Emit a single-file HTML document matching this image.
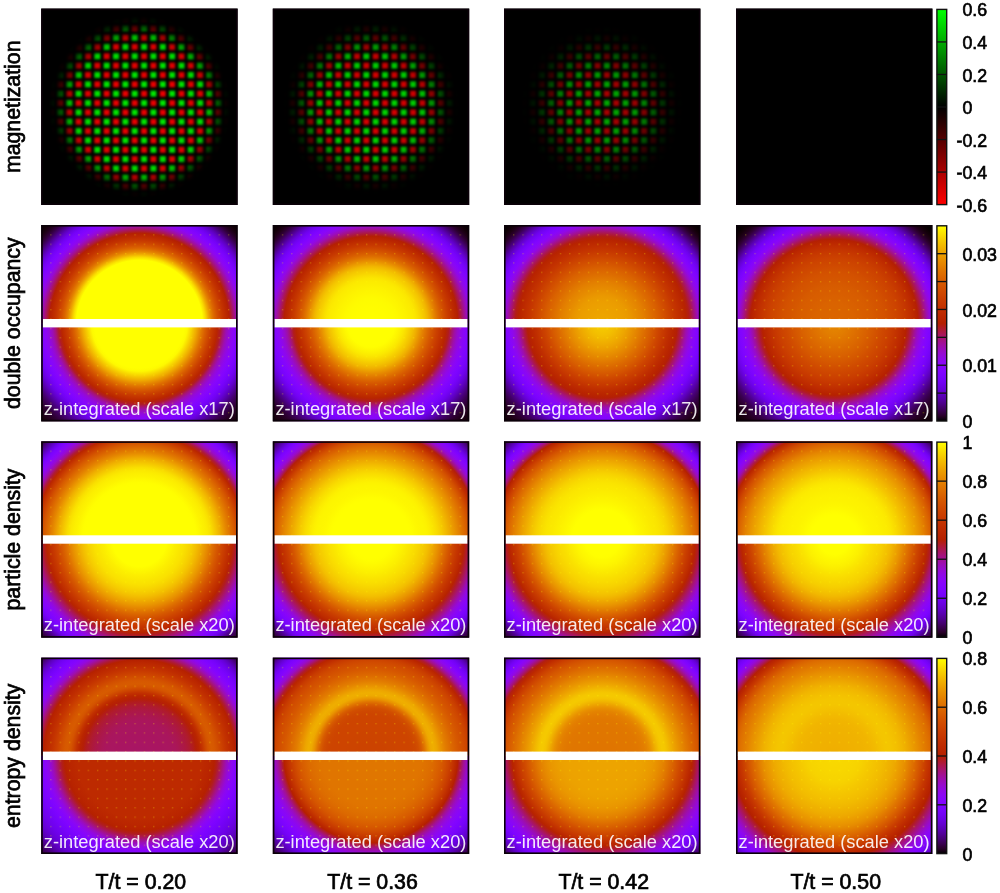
<!DOCTYPE html>
<html lang="en">
<head>
<meta charset="utf-8">
<title>Magnetization, double occupancy, particle density and entropy density</title>
<style>
html,body{margin:0;padding:0;background:#fff;}
body{width:1000px;height:893px;overflow:hidden;}
svg{display:block;font-family:"Liberation Sans", sans-serif;}
</style>
</head>
<body>
<svg width="1000" height="893" viewBox="0 0 1000 893">
<defs>
<filter id="bl" x="-5%" y="-5%" width="110%" height="110%" color-interpolation-filters="sRGB"><feGaussianBlur stdDeviation="1.15"/></filter>
<pattern id="chk0" patternUnits="userSpaceOnUse" x="27.171" y="-4.529" width="18.705" height="18.705"><rect x="1.676" y="1.676" width="6.00" height="6.00" fill="#ff0000"/><rect x="11.029" y="1.676" width="6.00" height="6.00" fill="#00ff00"/><rect x="1.676" y="11.029" width="6.00" height="6.00" fill="#00ff00"/><rect x="11.029" y="11.029" width="6.00" height="6.00" fill="#ff0000"/></pattern>
<radialGradient id="env0" gradientUnits="userSpaceOnUse" cx="139.4" cy="106.8" r="110"><stop offset="0.0000" stop-color="#fff" stop-opacity="0.920"/><stop offset="0.3436" stop-color="#fff" stop-opacity="0.902"/><stop offset="0.5727" stop-color="#fff" stop-opacity="0.856"/><stop offset="0.6045" stop-color="#fff" stop-opacity="0.823"/><stop offset="0.6364" stop-color="#fff" stop-opacity="0.730"/><stop offset="0.6682" stop-color="#fff" stop-opacity="0.592"/><stop offset="0.7000" stop-color="#fff" stop-opacity="0.428"/><stop offset="0.7318" stop-color="#fff" stop-opacity="0.264"/><stop offset="0.7636" stop-color="#fff" stop-opacity="0.125"/><stop offset="0.7955" stop-color="#fff" stop-opacity="0.033"/><stop offset="0.8273" stop-color="#fff" stop-opacity="0.000"/></radialGradient>
<mask id="mk0" maskUnits="userSpaceOnUse" x="41.2" y="8.6" width="196.4" height="196.4"><rect x="41.2" y="8.6" width="196.4" height="196.4" fill="url(#env0)"/></mask>
<pattern id="chk1" patternUnits="userSpaceOnUse" x="258.771" y="-4.529" width="18.705" height="18.705"><rect x="1.676" y="1.676" width="6.00" height="6.00" fill="#ff0000"/><rect x="11.029" y="1.676" width="6.00" height="6.00" fill="#00ff00"/><rect x="1.676" y="11.029" width="6.00" height="6.00" fill="#00ff00"/><rect x="11.029" y="11.029" width="6.00" height="6.00" fill="#ff0000"/></pattern>
<radialGradient id="env1" gradientUnits="userSpaceOnUse" cx="371.0" cy="106.8" r="110"><stop offset="0.0000" stop-color="#fff" stop-opacity="0.850"/><stop offset="0.2509" stop-color="#fff" stop-opacity="0.833"/><stop offset="0.4182" stop-color="#fff" stop-opacity="0.790"/><stop offset="0.4659" stop-color="#fff" stop-opacity="0.760"/><stop offset="0.5136" stop-color="#fff" stop-opacity="0.675"/><stop offset="0.5614" stop-color="#fff" stop-opacity="0.547"/><stop offset="0.6091" stop-color="#fff" stop-opacity="0.395"/><stop offset="0.6568" stop-color="#fff" stop-opacity="0.244"/><stop offset="0.7045" stop-color="#fff" stop-opacity="0.116"/><stop offset="0.7523" stop-color="#fff" stop-opacity="0.030"/><stop offset="0.8000" stop-color="#fff" stop-opacity="0.000"/></radialGradient>
<mask id="mk1" maskUnits="userSpaceOnUse" x="272.8" y="8.6" width="196.4" height="196.4"><rect x="272.8" y="8.6" width="196.4" height="196.4" fill="url(#env1)"/></mask>
<pattern id="chk2" patternUnits="userSpaceOnUse" x="489.971" y="-4.529" width="18.705" height="18.705"><rect x="1.676" y="1.676" width="6.00" height="6.00" fill="#ff0000"/><rect x="11.029" y="1.676" width="6.00" height="6.00" fill="#00ff00"/><rect x="1.676" y="11.029" width="6.00" height="6.00" fill="#00ff00"/><rect x="11.029" y="11.029" width="6.00" height="6.00" fill="#ff0000"/></pattern>
<radialGradient id="env2" gradientUnits="userSpaceOnUse" cx="602.2" cy="106.8" r="110"><stop offset="0.0000" stop-color="#fff" stop-opacity="0.660"/><stop offset="0.1473" stop-color="#fff" stop-opacity="0.647"/><stop offset="0.2455" stop-color="#fff" stop-opacity="0.614"/><stop offset="0.3068" stop-color="#fff" stop-opacity="0.590"/><stop offset="0.3682" stop-color="#fff" stop-opacity="0.524"/><stop offset="0.4295" stop-color="#fff" stop-opacity="0.424"/><stop offset="0.4909" stop-color="#fff" stop-opacity="0.307"/><stop offset="0.5523" stop-color="#fff" stop-opacity="0.189"/><stop offset="0.6136" stop-color="#fff" stop-opacity="0.090"/><stop offset="0.6750" stop-color="#fff" stop-opacity="0.023"/><stop offset="0.7364" stop-color="#fff" stop-opacity="0.000"/></radialGradient>
<mask id="mk2" maskUnits="userSpaceOnUse" x="504.0" y="8.6" width="196.4" height="196.4"><rect x="504.0" y="8.6" width="196.4" height="196.4" fill="url(#env2)"/></mask>
<pattern id="chk3" patternUnits="userSpaceOnUse" x="721.971" y="-4.529" width="18.705" height="18.705"><rect x="1.676" y="1.676" width="6.00" height="6.00" fill="#ff0000"/><rect x="11.029" y="1.676" width="6.00" height="6.00" fill="#00ff00"/><rect x="1.676" y="11.029" width="6.00" height="6.00" fill="#00ff00"/><rect x="11.029" y="11.029" width="6.00" height="6.00" fill="#ff0000"/></pattern>
<radialGradient id="g10t" gradientUnits="userSpaceOnUse" cx="139.4" cy="323.2" r="141"><stop offset="0.0000" stop-color="#ffff00"/><stop offset="0.4468" stop-color="#ffff00"/><stop offset="0.4681" stop-color="#f9db00"/><stop offset="0.4894" stop-color="#efab00"/><stop offset="0.5106" stop-color="#e48300"/><stop offset="0.5319" stop-color="#db6600"/><stop offset="0.5532" stop-color="#d35100"/><stop offset="0.5745" stop-color="#cb4100"/><stop offset="0.5957" stop-color="#c33300"/><stop offset="0.6170" stop-color="#bc2900"/><stop offset="0.6383" stop-color="#b42003"/><stop offset="0.6596" stop-color="#ab174f"/><stop offset="0.6809" stop-color="#a11096"/><stop offset="0.7021" stop-color="#970bce"/><stop offset="0.7234" stop-color="#8d07f0"/><stop offset="0.7447" stop-color="#8505fd"/><stop offset="0.7660" stop-color="#7d04fe"/><stop offset="0.7872" stop-color="#7502f7"/><stop offset="0.8085" stop-color="#6b01e3"/><stop offset="0.8298" stop-color="#5f01c2"/><stop offset="0.8511" stop-color="#510098"/><stop offset="0.8723" stop-color="#420069"/><stop offset="0.8936" stop-color="#330040"/><stop offset="0.9149" stop-color="#250023"/><stop offset="0.9362" stop-color="#190010"/><stop offset="0.9574" stop-color="#0f0006"/><stop offset="0.9787" stop-color="#070001"/><stop offset="1.0000" stop-color="#000000"/></radialGradient>
<radialGradient id="g10b" gradientUnits="userSpaceOnUse" cx="139.4" cy="323.2" r="141"><stop offset="0.0000" stop-color="#ffff00"/><stop offset="0.3191" stop-color="#ffff00"/><stop offset="0.3404" stop-color="#fef900"/><stop offset="0.3617" stop-color="#f9df00"/><stop offset="0.3830" stop-color="#f4c500"/><stop offset="0.4043" stop-color="#efab00"/><stop offset="0.4255" stop-color="#e78f00"/><stop offset="0.4468" stop-color="#e07400"/><stop offset="0.4681" stop-color="#d85e00"/><stop offset="0.4894" stop-color="#d04c00"/><stop offset="0.5106" stop-color="#c83c00"/><stop offset="0.5319" stop-color="#c13000"/><stop offset="0.5532" stop-color="#b92500"/><stop offset="0.5745" stop-color="#b01c24"/><stop offset="0.5957" stop-color="#a61377"/><stop offset="0.6170" stop-color="#9c0eb3"/><stop offset="0.6383" stop-color="#940ad8"/><stop offset="0.6596" stop-color="#8d07ef"/><stop offset="0.6809" stop-color="#8706fb"/><stop offset="0.7021" stop-color="#8104ff"/><stop offset="0.7234" stop-color="#7a03fd"/><stop offset="0.7447" stop-color="#7302f4"/><stop offset="0.7660" stop-color="#6b01e4"/><stop offset="0.7872" stop-color="#6101ca"/><stop offset="0.8085" stop-color="#5700aa"/><stop offset="0.8298" stop-color="#4c0088"/><stop offset="0.8511" stop-color="#420067"/><stop offset="0.8723" stop-color="#38004c"/><stop offset="0.8936" stop-color="#2f0037"/><stop offset="0.9149" stop-color="#280027"/><stop offset="0.9362" stop-color="#21001b"/><stop offset="0.9574" stop-color="#1a0010"/><stop offset="0.9787" stop-color="#130009"/><stop offset="1.0000" stop-color="#0c0004"/></radialGradient>
<pattern id="d10" patternUnits="userSpaceOnUse" x="40.900" y="224.900" width="9.352" height="9.352"><rect x="0" y="0" width="1.3" height="1.3" fill="#ffff00" fill-opacity="0.28"/></pattern>
<radialGradient id="g11t" gradientUnits="userSpaceOnUse" cx="371.0" cy="323.2" r="141"><stop offset="0.0000" stop-color="#ffff00"/><stop offset="0.0213" stop-color="#ffff00"/><stop offset="0.0426" stop-color="#fffe00"/><stop offset="0.0638" stop-color="#fffe00"/><stop offset="0.0851" stop-color="#fffd00"/><stop offset="0.1064" stop-color="#fffd00"/><stop offset="0.1277" stop-color="#fffc00"/><stop offset="0.1489" stop-color="#fefc00"/><stop offset="0.1702" stop-color="#fefb00"/><stop offset="0.1915" stop-color="#fef900"/><stop offset="0.2128" stop-color="#fef600"/><stop offset="0.2340" stop-color="#fdf400"/><stop offset="0.2553" stop-color="#fdf100"/><stop offset="0.2766" stop-color="#fcee00"/><stop offset="0.2979" stop-color="#fceb00"/><stop offset="0.3191" stop-color="#fbe600"/><stop offset="0.3404" stop-color="#f9dc00"/><stop offset="0.3617" stop-color="#f7d000"/><stop offset="0.3830" stop-color="#f4c500"/><stop offset="0.4043" stop-color="#f1b500"/><stop offset="0.4255" stop-color="#ec9f00"/><stop offset="0.4468" stop-color="#e68800"/><stop offset="0.4681" stop-color="#df7300"/><stop offset="0.4894" stop-color="#d96100"/><stop offset="0.5106" stop-color="#d35200"/><stop offset="0.5319" stop-color="#cd4500"/><stop offset="0.5532" stop-color="#c73900"/><stop offset="0.5745" stop-color="#c13000"/><stop offset="0.5957" stop-color="#bb2700"/><stop offset="0.6170" stop-color="#b42003"/><stop offset="0.6383" stop-color="#ac1844"/><stop offset="0.6596" stop-color="#a41284"/><stop offset="0.6809" stop-color="#9b0dbc"/><stop offset="0.7021" stop-color="#9109e4"/><stop offset="0.7234" stop-color="#8906f8"/><stop offset="0.7447" stop-color="#8104ff"/><stop offset="0.7660" stop-color="#7903fc"/><stop offset="0.7872" stop-color="#7002f0"/><stop offset="0.8085" stop-color="#6601d6"/><stop offset="0.8298" stop-color="#5900b0"/><stop offset="0.8511" stop-color="#4b0084"/><stop offset="0.8723" stop-color="#3c0056"/><stop offset="0.8936" stop-color="#2d0032"/><stop offset="0.9149" stop-color="#200019"/><stop offset="0.9362" stop-color="#15000b"/><stop offset="0.9574" stop-color="#0b0003"/><stop offset="0.9787" stop-color="#040000"/><stop offset="1.0000" stop-color="#000000"/></radialGradient>
<radialGradient id="g11b" gradientUnits="userSpaceOnUse" cx="371.0" cy="323.2" r="141"><stop offset="0.0000" stop-color="#ffff00"/><stop offset="0.1489" stop-color="#ffff00"/><stop offset="0.1702" stop-color="#fffe00"/><stop offset="0.1915" stop-color="#fef700"/><stop offset="0.2128" stop-color="#fcf000"/><stop offset="0.2340" stop-color="#fbe700"/><stop offset="0.2553" stop-color="#f9db00"/><stop offset="0.2766" stop-color="#f6ce00"/><stop offset="0.2979" stop-color="#f3c100"/><stop offset="0.3191" stop-color="#f0b100"/><stop offset="0.3404" stop-color="#eb9d00"/><stop offset="0.3617" stop-color="#e68900"/><stop offset="0.3830" stop-color="#e17700"/><stop offset="0.4043" stop-color="#db6700"/><stop offset="0.4255" stop-color="#d65800"/><stop offset="0.4468" stop-color="#d04c00"/><stop offset="0.4681" stop-color="#cb4000"/><stop offset="0.4894" stop-color="#c53600"/><stop offset="0.5106" stop-color="#bf2d00"/><stop offset="0.5319" stop-color="#b82500"/><stop offset="0.5532" stop-color="#b11c1e"/><stop offset="0.5745" stop-color="#a81567"/><stop offset="0.5957" stop-color="#9f0fa3"/><stop offset="0.6170" stop-color="#970bcc"/><stop offset="0.6383" stop-color="#9008e7"/><stop offset="0.6596" stop-color="#8a06f7"/><stop offset="0.6809" stop-color="#8305fe"/><stop offset="0.7021" stop-color="#7d04ff"/><stop offset="0.7234" stop-color="#7703f9"/><stop offset="0.7447" stop-color="#6f02ed"/><stop offset="0.7660" stop-color="#6601d7"/><stop offset="0.7872" stop-color="#5c01ba"/><stop offset="0.8085" stop-color="#510098"/><stop offset="0.8298" stop-color="#470076"/><stop offset="0.8511" stop-color="#3c0058"/><stop offset="0.8723" stop-color="#330040"/><stop offset="0.8936" stop-color="#2b002d"/><stop offset="0.9149" stop-color="#240020"/><stop offset="0.9362" stop-color="#1d0015"/><stop offset="0.9574" stop-color="#16000c"/><stop offset="0.9787" stop-color="#100006"/><stop offset="1.0000" stop-color="#080002"/></radialGradient>
<pattern id="d11" patternUnits="userSpaceOnUse" x="272.500" y="224.900" width="9.352" height="9.352"><rect x="0" y="0" width="1.3" height="1.3" fill="#ffff00" fill-opacity="0.28"/></pattern>
<radialGradient id="g12t" gradientUnits="userSpaceOnUse" cx="602.2" cy="323.2" r="141"><stop offset="0.0000" stop-color="#eea700"/><stop offset="0.0213" stop-color="#eea600"/><stop offset="0.0426" stop-color="#eda500"/><stop offset="0.0638" stop-color="#eda400"/><stop offset="0.0851" stop-color="#eda200"/><stop offset="0.1064" stop-color="#eca100"/><stop offset="0.1277" stop-color="#eca000"/><stop offset="0.1489" stop-color="#ec9e00"/><stop offset="0.1702" stop-color="#eb9c00"/><stop offset="0.1915" stop-color="#ea9900"/><stop offset="0.2128" stop-color="#e99400"/><stop offset="0.2340" stop-color="#e78e00"/><stop offset="0.2553" stop-color="#e68900"/><stop offset="0.2766" stop-color="#e48400"/><stop offset="0.2979" stop-color="#e37e00"/><stop offset="0.3191" stop-color="#e07700"/><stop offset="0.3404" stop-color="#de7000"/><stop offset="0.3617" stop-color="#dc6900"/><stop offset="0.3830" stop-color="#da6300"/><stop offset="0.4043" stop-color="#d75c00"/><stop offset="0.4255" stop-color="#d45400"/><stop offset="0.4468" stop-color="#d14d00"/><stop offset="0.4681" stop-color="#cd4600"/><stop offset="0.4894" stop-color="#ca3f00"/><stop offset="0.5106" stop-color="#c63800"/><stop offset="0.5319" stop-color="#c33200"/><stop offset="0.5532" stop-color="#bf2d00"/><stop offset="0.5745" stop-color="#bb2800"/><stop offset="0.5957" stop-color="#b72300"/><stop offset="0.6170" stop-color="#b21d16"/><stop offset="0.6383" stop-color="#ab174e"/><stop offset="0.6596" stop-color="#a3118a"/><stop offset="0.6809" stop-color="#9a0cc1"/><stop offset="0.7021" stop-color="#9008e8"/><stop offset="0.7234" stop-color="#8706fa"/><stop offset="0.7447" stop-color="#8004ff"/><stop offset="0.7660" stop-color="#7703fa"/><stop offset="0.7872" stop-color="#6e02eb"/><stop offset="0.8085" stop-color="#6301ce"/><stop offset="0.8298" stop-color="#5600a6"/><stop offset="0.8511" stop-color="#470079"/><stop offset="0.8723" stop-color="#38004d"/><stop offset="0.8936" stop-color="#2a002b"/><stop offset="0.9149" stop-color="#1d0015"/><stop offset="0.9362" stop-color="#120008"/><stop offset="0.9574" stop-color="#090002"/><stop offset="0.9787" stop-color="#020000"/><stop offset="1.0000" stop-color="#000000"/></radialGradient>
<radialGradient id="g12b" gradientUnits="userSpaceOnUse" cx="602.2" cy="323.2" r="141"><stop offset="0.0000" stop-color="#f6cb00"/><stop offset="0.0213" stop-color="#f5ca00"/><stop offset="0.0426" stop-color="#f5c700"/><stop offset="0.0638" stop-color="#f4c300"/><stop offset="0.0851" stop-color="#f3bf00"/><stop offset="0.1064" stop-color="#f2b900"/><stop offset="0.1277" stop-color="#f0b200"/><stop offset="0.1489" stop-color="#efab00"/><stop offset="0.1702" stop-color="#eda400"/><stop offset="0.1915" stop-color="#eb9c00"/><stop offset="0.2128" stop-color="#e99300"/><stop offset="0.2340" stop-color="#e68b00"/><stop offset="0.2553" stop-color="#e48200"/><stop offset="0.2766" stop-color="#e17900"/><stop offset="0.2979" stop-color="#de7000"/><stop offset="0.3191" stop-color="#db6700"/><stop offset="0.3404" stop-color="#d85f00"/><stop offset="0.3617" stop-color="#d55600"/><stop offset="0.3830" stop-color="#d14d00"/><stop offset="0.4043" stop-color="#cd4400"/><stop offset="0.4255" stop-color="#c93d00"/><stop offset="0.4468" stop-color="#c53600"/><stop offset="0.4681" stop-color="#c02f00"/><stop offset="0.4894" stop-color="#bc2900"/><stop offset="0.5106" stop-color="#b82400"/><stop offset="0.5319" stop-color="#b41f06"/><stop offset="0.5532" stop-color="#ae193a"/><stop offset="0.5745" stop-color="#a61375"/><stop offset="0.5957" stop-color="#9e0eac"/><stop offset="0.6170" stop-color="#950ad4"/><stop offset="0.6383" stop-color="#8e08ed"/><stop offset="0.6596" stop-color="#8706fa"/><stop offset="0.6809" stop-color="#8104ff"/><stop offset="0.7021" stop-color="#7b03fe"/><stop offset="0.7234" stop-color="#7402f6"/><stop offset="0.7447" stop-color="#6c01e7"/><stop offset="0.7660" stop-color="#6301ce"/><stop offset="0.7872" stop-color="#5800af"/><stop offset="0.8085" stop-color="#4e008c"/><stop offset="0.8298" stop-color="#43006b"/><stop offset="0.8511" stop-color="#390050"/><stop offset="0.8723" stop-color="#300039"/><stop offset="0.8936" stop-color="#290029"/><stop offset="0.9149" stop-color="#22001c"/><stop offset="0.9362" stop-color="#1b0012"/><stop offset="0.9574" stop-color="#14000a"/><stop offset="0.9787" stop-color="#0d0004"/><stop offset="1.0000" stop-color="#060001"/></radialGradient>
<pattern id="d12" patternUnits="userSpaceOnUse" x="503.700" y="224.900" width="9.352" height="9.352"><rect x="0" y="0" width="1.3" height="1.3" fill="#ffff00" fill-opacity="0.28"/></pattern>
<radialGradient id="g13t" gradientUnits="userSpaceOnUse" cx="834.2" cy="323.2" r="141"><stop offset="0.0000" stop-color="#db6700"/><stop offset="0.0213" stop-color="#db6700"/><stop offset="0.0426" stop-color="#db6600"/><stop offset="0.0638" stop-color="#db6500"/><stop offset="0.0851" stop-color="#da6500"/><stop offset="0.1064" stop-color="#da6400"/><stop offset="0.1277" stop-color="#da6400"/><stop offset="0.1489" stop-color="#da6300"/><stop offset="0.1702" stop-color="#d96100"/><stop offset="0.1915" stop-color="#d96000"/><stop offset="0.2128" stop-color="#d85e00"/><stop offset="0.2340" stop-color="#d85d00"/><stop offset="0.2553" stop-color="#d75c00"/><stop offset="0.2766" stop-color="#d65a00"/><stop offset="0.2979" stop-color="#d55700"/><stop offset="0.3191" stop-color="#d45500"/><stop offset="0.3404" stop-color="#d45300"/><stop offset="0.3617" stop-color="#d35100"/><stop offset="0.3830" stop-color="#d14e00"/><stop offset="0.4043" stop-color="#d04a00"/><stop offset="0.4255" stop-color="#ce4700"/><stop offset="0.4468" stop-color="#cd4400"/><stop offset="0.4681" stop-color="#cb4000"/><stop offset="0.4894" stop-color="#c83c00"/><stop offset="0.5106" stop-color="#c63700"/><stop offset="0.5319" stop-color="#c23200"/><stop offset="0.5532" stop-color="#bf2c00"/><stop offset="0.5745" stop-color="#ba2600"/><stop offset="0.5957" stop-color="#b42003"/><stop offset="0.6170" stop-color="#ae193a"/><stop offset="0.6383" stop-color="#a61376"/><stop offset="0.6596" stop-color="#9d0eaf"/><stop offset="0.6809" stop-color="#9309dd"/><stop offset="0.7021" stop-color="#8a06f6"/><stop offset="0.7234" stop-color="#8204fe"/><stop offset="0.7447" stop-color="#7a03fd"/><stop offset="0.7660" stop-color="#7102f2"/><stop offset="0.7872" stop-color="#6701d9"/><stop offset="0.8085" stop-color="#5a01b5"/><stop offset="0.8298" stop-color="#4c0088"/><stop offset="0.8511" stop-color="#3d005b"/><stop offset="0.8723" stop-color="#2f0035"/><stop offset="0.8936" stop-color="#21001b"/><stop offset="0.9149" stop-color="#16000c"/><stop offset="0.9362" stop-color="#0c0004"/><stop offset="0.9574" stop-color="#040000"/><stop offset="0.9787" stop-color="#000000"/><stop offset="1.0000" stop-color="#000000"/></radialGradient>
<radialGradient id="g13b" gradientUnits="userSpaceOnUse" cx="834.2" cy="323.2" r="141"><stop offset="0.0000" stop-color="#e58600"/><stop offset="0.0213" stop-color="#e58500"/><stop offset="0.0426" stop-color="#e48300"/><stop offset="0.0638" stop-color="#e38000"/><stop offset="0.0851" stop-color="#e27d00"/><stop offset="0.1064" stop-color="#e17900"/><stop offset="0.1277" stop-color="#e07500"/><stop offset="0.1489" stop-color="#df7100"/><stop offset="0.1702" stop-color="#dd6d00"/><stop offset="0.1915" stop-color="#dc6900"/><stop offset="0.2128" stop-color="#da6500"/><stop offset="0.2340" stop-color="#d96100"/><stop offset="0.2553" stop-color="#d75c00"/><stop offset="0.2766" stop-color="#d55800"/><stop offset="0.2979" stop-color="#d35300"/><stop offset="0.3191" stop-color="#d14e00"/><stop offset="0.3404" stop-color="#cf4900"/><stop offset="0.3617" stop-color="#cd4500"/><stop offset="0.3830" stop-color="#cb4100"/><stop offset="0.4043" stop-color="#c93c00"/><stop offset="0.4255" stop-color="#c63700"/><stop offset="0.4468" stop-color="#c23200"/><stop offset="0.4681" stop-color="#bf2c00"/><stop offset="0.4894" stop-color="#ba2700"/><stop offset="0.5106" stop-color="#b62100"/><stop offset="0.5319" stop-color="#b01b27"/><stop offset="0.5532" stop-color="#a91561"/><stop offset="0.5745" stop-color="#a0109b"/><stop offset="0.5957" stop-color="#980bc9"/><stop offset="0.6170" stop-color="#9008e6"/><stop offset="0.6383" stop-color="#8a06f7"/><stop offset="0.6596" stop-color="#8305fe"/><stop offset="0.6809" stop-color="#7d04ff"/><stop offset="0.7021" stop-color="#7703f9"/><stop offset="0.7234" stop-color="#6f02ed"/><stop offset="0.7447" stop-color="#6601d7"/><stop offset="0.7660" stop-color="#5c01ba"/><stop offset="0.7872" stop-color="#510098"/><stop offset="0.8085" stop-color="#470076"/><stop offset="0.8298" stop-color="#3c0058"/><stop offset="0.8511" stop-color="#330040"/><stop offset="0.8723" stop-color="#2b002d"/><stop offset="0.8936" stop-color="#240020"/><stop offset="0.9149" stop-color="#1d0015"/><stop offset="0.9362" stop-color="#16000c"/><stop offset="0.9574" stop-color="#100006"/><stop offset="0.9787" stop-color="#080002"/><stop offset="1.0000" stop-color="#020000"/></radialGradient>
<pattern id="d13" patternUnits="userSpaceOnUse" x="735.700" y="224.900" width="9.352" height="9.352"><rect x="0" y="0" width="1.3" height="1.3" fill="#ffff00" fill-opacity="0.28"/></pattern>
<radialGradient id="g20t" gradientUnits="userSpaceOnUse" cx="139.4" cy="539.5" r="141"><stop offset="0.0000" stop-color="#ffff00"/><stop offset="0.3830" stop-color="#ffff00"/><stop offset="0.4043" stop-color="#fffe00"/><stop offset="0.4255" stop-color="#fef900"/><stop offset="0.4468" stop-color="#fdf300"/><stop offset="0.4681" stop-color="#fcef00"/><stop offset="0.4894" stop-color="#fbe900"/><stop offset="0.5106" stop-color="#f9df00"/><stop offset="0.5319" stop-color="#f6cf00"/><stop offset="0.5532" stop-color="#f3bf00"/><stop offset="0.5745" stop-color="#efae00"/><stop offset="0.5957" stop-color="#eb9a00"/><stop offset="0.6170" stop-color="#e58700"/><stop offset="0.6383" stop-color="#e07600"/><stop offset="0.6596" stop-color="#db6600"/><stop offset="0.6809" stop-color="#d55700"/><stop offset="0.7021" stop-color="#ce4600"/><stop offset="0.7234" stop-color="#c53600"/><stop offset="0.7447" stop-color="#ba2600"/><stop offset="0.7660" stop-color="#ae1a38"/><stop offset="0.7872" stop-color="#a21193"/><stop offset="0.8085" stop-color="#970bcf"/><stop offset="0.8298" stop-color="#8d07f0"/><stop offset="0.8511" stop-color="#8405fd"/><stop offset="0.8723" stop-color="#7a03fd"/><stop offset="0.8936" stop-color="#6c01e7"/><stop offset="0.9149" stop-color="#5e01c0"/><stop offset="0.9362" stop-color="#510097"/><stop offset="0.9574" stop-color="#420067"/><stop offset="0.9787" stop-color="#2e0035"/><stop offset="1.0000" stop-color="#21001b"/></radialGradient>
<radialGradient id="g20b" gradientUnits="userSpaceOnUse" cx="139.4" cy="539.5" r="141"><stop offset="0.0000" stop-color="#ffff00"/><stop offset="0.1915" stop-color="#ffff00"/><stop offset="0.2128" stop-color="#fef900"/><stop offset="0.2340" stop-color="#fdf400"/><stop offset="0.2553" stop-color="#fcee00"/><stop offset="0.2766" stop-color="#fbea00"/><stop offset="0.2979" stop-color="#fae500"/><stop offset="0.3191" stop-color="#fae100"/><stop offset="0.3404" stop-color="#f8da00"/><stop offset="0.3617" stop-color="#f7d200"/><stop offset="0.3830" stop-color="#f5c900"/><stop offset="0.4043" stop-color="#f3be00"/><stop offset="0.4255" stop-color="#f0b100"/><stop offset="0.4468" stop-color="#eda300"/><stop offset="0.4681" stop-color="#e99500"/><stop offset="0.4894" stop-color="#e58500"/><stop offset="0.5106" stop-color="#e07400"/><stop offset="0.5319" stop-color="#da6500"/><stop offset="0.5532" stop-color="#d55700"/><stop offset="0.5745" stop-color="#d04b00"/><stop offset="0.5957" stop-color="#cb4000"/><stop offset="0.6170" stop-color="#c53600"/><stop offset="0.6383" stop-color="#bf2d00"/><stop offset="0.6596" stop-color="#b82400"/><stop offset="0.6809" stop-color="#b01c22"/><stop offset="0.7021" stop-color="#ab1753"/><stop offset="0.7234" stop-color="#a41284"/><stop offset="0.7447" stop-color="#9c0db4"/><stop offset="0.7660" stop-color="#940ada"/><stop offset="0.7872" stop-color="#8c07f1"/><stop offset="0.8085" stop-color="#8605fb"/><stop offset="0.8298" stop-color="#7f04ff"/><stop offset="0.8511" stop-color="#7703fa"/><stop offset="0.8723" stop-color="#6d02e8"/><stop offset="0.8936" stop-color="#5e01c1"/><stop offset="0.9149" stop-color="#500092"/><stop offset="0.9362" stop-color="#420068"/><stop offset="0.9574" stop-color="#350043"/><stop offset="0.9787" stop-color="#280027"/><stop offset="1.0000" stop-color="#20001a"/></radialGradient>
<pattern id="d20" patternUnits="userSpaceOnUse" x="40.900" y="441.200" width="9.352" height="9.352"><rect x="0" y="0" width="1.3" height="1.3" fill="#ffff00" fill-opacity="0.28"/></pattern>
<radialGradient id="g21t" gradientUnits="userSpaceOnUse" cx="371.0" cy="539.5" r="141"><stop offset="0.0000" stop-color="#ffff00"/><stop offset="0.2766" stop-color="#ffff00"/><stop offset="0.2979" stop-color="#fffd00"/><stop offset="0.3191" stop-color="#fefa00"/><stop offset="0.3404" stop-color="#fef700"/><stop offset="0.3617" stop-color="#fdf600"/><stop offset="0.3830" stop-color="#fdf500"/><stop offset="0.4043" stop-color="#fdf200"/><stop offset="0.4255" stop-color="#fcec00"/><stop offset="0.4468" stop-color="#fae400"/><stop offset="0.4681" stop-color="#f9dc00"/><stop offset="0.4894" stop-color="#f7d200"/><stop offset="0.5106" stop-color="#f5c700"/><stop offset="0.5319" stop-color="#f2bb00"/><stop offset="0.5532" stop-color="#efae00"/><stop offset="0.5745" stop-color="#eca100"/><stop offset="0.5957" stop-color="#e99400"/><stop offset="0.6170" stop-color="#e58700"/><stop offset="0.6383" stop-color="#e17900"/><stop offset="0.6596" stop-color="#dd6c00"/><stop offset="0.6809" stop-color="#d85e00"/><stop offset="0.7021" stop-color="#d24f00"/><stop offset="0.7234" stop-color="#c93e00"/><stop offset="0.7447" stop-color="#bf2d00"/><stop offset="0.7660" stop-color="#b31f0b"/><stop offset="0.7872" stop-color="#a51379"/><stop offset="0.8085" stop-color="#990cc6"/><stop offset="0.8298" stop-color="#8e08ec"/><stop offset="0.8511" stop-color="#8605fc"/><stop offset="0.8723" stop-color="#7c03fe"/><stop offset="0.8936" stop-color="#6e02eb"/><stop offset="0.9149" stop-color="#6001c5"/><stop offset="0.9362" stop-color="#52009b"/><stop offset="0.9574" stop-color="#42006a"/><stop offset="0.9787" stop-color="#2f0036"/><stop offset="1.0000" stop-color="#21001b"/></radialGradient>
<radialGradient id="g21b" gradientUnits="userSpaceOnUse" cx="371.0" cy="539.5" r="141"><stop offset="0.0000" stop-color="#ffff00"/><stop offset="0.1277" stop-color="#ffff00"/><stop offset="0.1489" stop-color="#fffe00"/><stop offset="0.1702" stop-color="#fefb00"/><stop offset="0.1915" stop-color="#fef700"/><stop offset="0.2128" stop-color="#fdf300"/><stop offset="0.2340" stop-color="#fcef00"/><stop offset="0.2553" stop-color="#fbea00"/><stop offset="0.2766" stop-color="#fae500"/><stop offset="0.2979" stop-color="#fae000"/><stop offset="0.3191" stop-color="#f9db00"/><stop offset="0.3404" stop-color="#f7d500"/><stop offset="0.3617" stop-color="#f6ce00"/><stop offset="0.3830" stop-color="#f5c700"/><stop offset="0.4043" stop-color="#f3be00"/><stop offset="0.4255" stop-color="#f0b100"/><stop offset="0.4468" stop-color="#eda300"/><stop offset="0.4681" stop-color="#e99500"/><stop offset="0.4894" stop-color="#e58500"/><stop offset="0.5106" stop-color="#e07400"/><stop offset="0.5319" stop-color="#da6500"/><stop offset="0.5532" stop-color="#d55600"/><stop offset="0.5745" stop-color="#cf4900"/><stop offset="0.5957" stop-color="#c93e00"/><stop offset="0.6170" stop-color="#c43400"/><stop offset="0.6383" stop-color="#be2c00"/><stop offset="0.6596" stop-color="#b72300"/><stop offset="0.6809" stop-color="#b01b27"/><stop offset="0.7021" stop-color="#aa1755"/><stop offset="0.7234" stop-color="#a41284"/><stop offset="0.7447" stop-color="#9c0db4"/><stop offset="0.7660" stop-color="#940ada"/><stop offset="0.7872" stop-color="#8c07f1"/><stop offset="0.8085" stop-color="#8605fb"/><stop offset="0.8298" stop-color="#7f04ff"/><stop offset="0.8511" stop-color="#7703fa"/><stop offset="0.8723" stop-color="#6d02e8"/><stop offset="0.8936" stop-color="#5e01c1"/><stop offset="0.9149" stop-color="#500092"/><stop offset="0.9362" stop-color="#420068"/><stop offset="0.9574" stop-color="#350043"/><stop offset="0.9787" stop-color="#280027"/><stop offset="1.0000" stop-color="#20001a"/></radialGradient>
<pattern id="d21" patternUnits="userSpaceOnUse" x="272.500" y="441.200" width="9.352" height="9.352"><rect x="0" y="0" width="1.3" height="1.3" fill="#ffff00" fill-opacity="0.28"/></pattern>
<radialGradient id="g22t" gradientUnits="userSpaceOnUse" cx="602.2" cy="539.5" r="141"><stop offset="0.0000" stop-color="#ffff00"/><stop offset="0.2128" stop-color="#ffff00"/><stop offset="0.2340" stop-color="#fefc00"/><stop offset="0.2553" stop-color="#fef800"/><stop offset="0.2766" stop-color="#fdf500"/><stop offset="0.2979" stop-color="#fdf200"/><stop offset="0.3191" stop-color="#fcef00"/><stop offset="0.3404" stop-color="#fcec00"/><stop offset="0.3617" stop-color="#fbe900"/><stop offset="0.3830" stop-color="#fbe700"/><stop offset="0.4043" stop-color="#fae400"/><stop offset="0.4255" stop-color="#f9df00"/><stop offset="0.4468" stop-color="#f8d900"/><stop offset="0.4681" stop-color="#f7d200"/><stop offset="0.4894" stop-color="#f5c900"/><stop offset="0.5106" stop-color="#f3bf00"/><stop offset="0.5319" stop-color="#f1b400"/><stop offset="0.5532" stop-color="#eea900"/><stop offset="0.5745" stop-color="#eb9e00"/><stop offset="0.5957" stop-color="#e89200"/><stop offset="0.6170" stop-color="#e58600"/><stop offset="0.6383" stop-color="#e17900"/><stop offset="0.6596" stop-color="#dd6c00"/><stop offset="0.6809" stop-color="#d85e00"/><stop offset="0.7021" stop-color="#d25000"/><stop offset="0.7234" stop-color="#cb4000"/><stop offset="0.7447" stop-color="#c13000"/><stop offset="0.7660" stop-color="#b52100"/><stop offset="0.7872" stop-color="#a81569"/><stop offset="0.8085" stop-color="#9b0dbc"/><stop offset="0.8298" stop-color="#9008e8"/><stop offset="0.8511" stop-color="#8706fa"/><stop offset="0.8723" stop-color="#7e04ff"/><stop offset="0.8936" stop-color="#7002f0"/><stop offset="0.9149" stop-color="#6101ca"/><stop offset="0.9362" stop-color="#53009f"/><stop offset="0.9574" stop-color="#43006c"/><stop offset="0.9787" stop-color="#300037"/><stop offset="1.0000" stop-color="#22001c"/></radialGradient>
<radialGradient id="g22b" gradientUnits="userSpaceOnUse" cx="602.2" cy="539.5" r="141"><stop offset="0.0000" stop-color="#ffff00"/><stop offset="0.1064" stop-color="#ffff00"/><stop offset="0.1277" stop-color="#fffe00"/><stop offset="0.1489" stop-color="#fefa00"/><stop offset="0.1702" stop-color="#fef700"/><stop offset="0.1915" stop-color="#fdf300"/><stop offset="0.2128" stop-color="#fcee00"/><stop offset="0.2340" stop-color="#fbe900"/><stop offset="0.2553" stop-color="#fae400"/><stop offset="0.2766" stop-color="#f9df00"/><stop offset="0.2979" stop-color="#f9db00"/><stop offset="0.3191" stop-color="#f8d600"/><stop offset="0.3404" stop-color="#f7d100"/><stop offset="0.3617" stop-color="#f5ca00"/><stop offset="0.3830" stop-color="#f4c400"/><stop offset="0.4043" stop-color="#f2bb00"/><stop offset="0.4255" stop-color="#f0af00"/><stop offset="0.4468" stop-color="#eca200"/><stop offset="0.4681" stop-color="#e99500"/><stop offset="0.4894" stop-color="#e58600"/><stop offset="0.5106" stop-color="#e07700"/><stop offset="0.5319" stop-color="#dc6800"/><stop offset="0.5532" stop-color="#d65a00"/><stop offset="0.5745" stop-color="#d14d00"/><stop offset="0.5957" stop-color="#cb4100"/><stop offset="0.6170" stop-color="#c53700"/><stop offset="0.6383" stop-color="#bf2e00"/><stop offset="0.6596" stop-color="#b82400"/><stop offset="0.6809" stop-color="#b11c21"/><stop offset="0.7021" stop-color="#ab1753"/><stop offset="0.7234" stop-color="#a41284"/><stop offset="0.7447" stop-color="#9c0db4"/><stop offset="0.7660" stop-color="#940ada"/><stop offset="0.7872" stop-color="#8c07f1"/><stop offset="0.8085" stop-color="#8605fb"/><stop offset="0.8298" stop-color="#7f04ff"/><stop offset="0.8511" stop-color="#7703fa"/><stop offset="0.8723" stop-color="#6d02e8"/><stop offset="0.8936" stop-color="#5e01c1"/><stop offset="0.9149" stop-color="#500092"/><stop offset="0.9362" stop-color="#420068"/><stop offset="0.9574" stop-color="#350043"/><stop offset="0.9787" stop-color="#280027"/><stop offset="1.0000" stop-color="#20001a"/></radialGradient>
<pattern id="d22" patternUnits="userSpaceOnUse" x="503.700" y="441.200" width="9.352" height="9.352"><rect x="0" y="0" width="1.3" height="1.3" fill="#ffff00" fill-opacity="0.28"/></pattern>
<radialGradient id="g23t" gradientUnits="userSpaceOnUse" cx="834.2" cy="539.5" r="141"><stop offset="0.0000" stop-color="#ffff00"/><stop offset="0.1702" stop-color="#ffff00"/><stop offset="0.1915" stop-color="#fffd00"/><stop offset="0.2128" stop-color="#fefa00"/><stop offset="0.2340" stop-color="#fef700"/><stop offset="0.2553" stop-color="#fdf500"/><stop offset="0.2766" stop-color="#fdf300"/><stop offset="0.2979" stop-color="#fdf200"/><stop offset="0.3191" stop-color="#fdf100"/><stop offset="0.3404" stop-color="#fcef00"/><stop offset="0.3617" stop-color="#fced00"/><stop offset="0.3830" stop-color="#fceb00"/><stop offset="0.4043" stop-color="#fbe700"/><stop offset="0.4255" stop-color="#fae000"/><stop offset="0.4468" stop-color="#f8d800"/><stop offset="0.4681" stop-color="#f6d000"/><stop offset="0.4894" stop-color="#f5c600"/><stop offset="0.5106" stop-color="#f3bd00"/><stop offset="0.5319" stop-color="#f1b400"/><stop offset="0.5532" stop-color="#eeaa00"/><stop offset="0.5745" stop-color="#eca000"/><stop offset="0.5957" stop-color="#e99600"/><stop offset="0.6170" stop-color="#e68b00"/><stop offset="0.6383" stop-color="#e37e00"/><stop offset="0.6596" stop-color="#de7000"/><stop offset="0.6809" stop-color="#da6300"/><stop offset="0.7021" stop-color="#d45400"/><stop offset="0.7234" stop-color="#cd4500"/><stop offset="0.7447" stop-color="#c33300"/><stop offset="0.7660" stop-color="#b82400"/><stop offset="0.7872" stop-color="#ab1750"/><stop offset="0.8085" stop-color="#9d0eaf"/><stop offset="0.8298" stop-color="#9209e3"/><stop offset="0.8511" stop-color="#8806f8"/><stop offset="0.8723" stop-color="#7f04ff"/><stop offset="0.8936" stop-color="#7302f3"/><stop offset="0.9149" stop-color="#6301cf"/><stop offset="0.9362" stop-color="#5500a3"/><stop offset="0.9574" stop-color="#44006f"/><stop offset="0.9787" stop-color="#300039"/><stop offset="1.0000" stop-color="#22001c"/></radialGradient>
<radialGradient id="g23b" gradientUnits="userSpaceOnUse" cx="834.2" cy="539.5" r="141"><stop offset="0.0000" stop-color="#ffff00"/><stop offset="0.1064" stop-color="#ffff00"/><stop offset="0.1277" stop-color="#fefb00"/><stop offset="0.1489" stop-color="#fef700"/><stop offset="0.1702" stop-color="#fdf400"/><stop offset="0.1915" stop-color="#fcf000"/><stop offset="0.2128" stop-color="#fbeb00"/><stop offset="0.2340" stop-color="#fae500"/><stop offset="0.2553" stop-color="#fae000"/><stop offset="0.2766" stop-color="#f9db00"/><stop offset="0.2979" stop-color="#f8d700"/><stop offset="0.3191" stop-color="#f7d300"/><stop offset="0.3404" stop-color="#f6ce00"/><stop offset="0.3617" stop-color="#f5c700"/><stop offset="0.3830" stop-color="#f3c000"/><stop offset="0.4043" stop-color="#f2b800"/><stop offset="0.4255" stop-color="#efad00"/><stop offset="0.4468" stop-color="#eca100"/><stop offset="0.4681" stop-color="#e99500"/><stop offset="0.4894" stop-color="#e58700"/><stop offset="0.5106" stop-color="#e17900"/><stop offset="0.5319" stop-color="#dd6b00"/><stop offset="0.5532" stop-color="#d85e00"/><stop offset="0.5745" stop-color="#d25000"/><stop offset="0.5957" stop-color="#cc4400"/><stop offset="0.6170" stop-color="#c73900"/><stop offset="0.6383" stop-color="#c02f00"/><stop offset="0.6596" stop-color="#b92500"/><stop offset="0.6809" stop-color="#b11c1f"/><stop offset="0.7021" stop-color="#aa1659"/><stop offset="0.7234" stop-color="#a31288"/><stop offset="0.7447" stop-color="#9d0eb1"/><stop offset="0.7660" stop-color="#950ad5"/><stop offset="0.7872" stop-color="#8e07ee"/><stop offset="0.8085" stop-color="#8706fa"/><stop offset="0.8298" stop-color="#8104ff"/><stop offset="0.8511" stop-color="#7903fc"/><stop offset="0.8723" stop-color="#6f02ec"/><stop offset="0.8936" stop-color="#6101c9"/><stop offset="0.9149" stop-color="#52009a"/><stop offset="0.9362" stop-color="#44006f"/><stop offset="0.9574" stop-color="#360048"/><stop offset="0.9787" stop-color="#290028"/><stop offset="1.0000" stop-color="#20001a"/></radialGradient>
<pattern id="d23" patternUnits="userSpaceOnUse" x="735.700" y="441.200" width="9.352" height="9.352"><rect x="0" y="0" width="1.3" height="1.3" fill="#ffff00" fill-opacity="0.28"/></pattern>
<radialGradient id="g30t" gradientUnits="userSpaceOnUse" cx="139.4" cy="755.8" r="141"><stop offset="0.0000" stop-color="#a81565"/><stop offset="0.0213" stop-color="#a81565"/><stop offset="0.0426" stop-color="#a81564"/><stop offset="0.0638" stop-color="#a81563"/><stop offset="0.0851" stop-color="#a91563"/><stop offset="0.1064" stop-color="#a91562"/><stop offset="0.1277" stop-color="#a91561"/><stop offset="0.1489" stop-color="#a91561"/><stop offset="0.1702" stop-color="#a91560"/><stop offset="0.1915" stop-color="#a91660"/><stop offset="0.2128" stop-color="#a9165f"/><stop offset="0.2340" stop-color="#a9165e"/><stop offset="0.2553" stop-color="#aa165b"/><stop offset="0.2766" stop-color="#aa1755"/><stop offset="0.2979" stop-color="#ab174e"/><stop offset="0.3191" stop-color="#ac1846"/><stop offset="0.3404" stop-color="#ad193b"/><stop offset="0.3617" stop-color="#af1b2f"/><stop offset="0.3830" stop-color="#b11c1e"/><stop offset="0.4043" stop-color="#b41f07"/><stop offset="0.4255" stop-color="#b92500"/><stop offset="0.4468" stop-color="#c23100"/><stop offset="0.4681" stop-color="#cc4400"/><stop offset="0.4894" stop-color="#d45400"/><stop offset="0.5106" stop-color="#d75b00"/><stop offset="0.5319" stop-color="#d65800"/><stop offset="0.5532" stop-color="#d25000"/><stop offset="0.5745" stop-color="#ce4600"/><stop offset="0.5957" stop-color="#c93d00"/><stop offset="0.6170" stop-color="#c43400"/><stop offset="0.6383" stop-color="#bf2d00"/><stop offset="0.6596" stop-color="#bb2700"/><stop offset="0.6809" stop-color="#b52100"/><stop offset="0.7021" stop-color="#ae1a33"/><stop offset="0.7234" stop-color="#a61474"/><stop offset="0.7447" stop-color="#9d0eb1"/><stop offset="0.7660" stop-color="#9309dd"/><stop offset="0.7872" stop-color="#8a07f5"/><stop offset="0.8085" stop-color="#8305fe"/><stop offset="0.8298" stop-color="#7d04ff"/><stop offset="0.8511" stop-color="#7703fa"/><stop offset="0.8723" stop-color="#7002f0"/><stop offset="0.8936" stop-color="#6801dd"/><stop offset="0.9149" stop-color="#5e01c1"/><stop offset="0.9362" stop-color="#520099"/><stop offset="0.9574" stop-color="#44006d"/><stop offset="0.9787" stop-color="#350046"/><stop offset="1.0000" stop-color="#2d0032"/></radialGradient>
<radialGradient id="g30b" gradientUnits="userSpaceOnUse" cx="139.4" cy="755.8" r="141"><stop offset="0.0000" stop-color="#bd2a00"/><stop offset="0.4468" stop-color="#bd2a00"/><stop offset="0.4681" stop-color="#bb2800"/><stop offset="0.4894" stop-color="#ba2600"/><stop offset="0.5106" stop-color="#b82400"/><stop offset="0.5319" stop-color="#b52100"/><stop offset="0.5532" stop-color="#b11d1d"/><stop offset="0.5745" stop-color="#ab1750"/><stop offset="0.5957" stop-color="#a41286"/><stop offset="0.6170" stop-color="#9c0db8"/><stop offset="0.6383" stop-color="#9309dd"/><stop offset="0.6596" stop-color="#8c07f2"/><stop offset="0.6809" stop-color="#8505fc"/><stop offset="0.7021" stop-color="#8004ff"/><stop offset="0.7234" stop-color="#7b03fe"/><stop offset="0.7447" stop-color="#7703fa"/><stop offset="0.7660" stop-color="#7302f4"/><stop offset="0.7872" stop-color="#7002ee"/><stop offset="0.8085" stop-color="#6c01e6"/><stop offset="0.8298" stop-color="#6801db"/><stop offset="0.8511" stop-color="#6301ce"/><stop offset="0.8723" stop-color="#5d01be"/><stop offset="0.8936" stop-color="#5600a8"/><stop offset="0.9149" stop-color="#4e008c"/><stop offset="0.9362" stop-color="#44006f"/><stop offset="0.9574" stop-color="#3b0053"/><stop offset="0.9787" stop-color="#32003c"/><stop offset="1.0000" stop-color="#2d0031"/></radialGradient>
<pattern id="d30" patternUnits="userSpaceOnUse" x="40.900" y="657.500" width="9.352" height="9.352"><rect x="0" y="0" width="1.3" height="1.3" fill="#ffff00" fill-opacity="0.28"/></pattern>
<radialGradient id="g31t" gradientUnits="userSpaceOnUse" cx="371.0" cy="755.8" r="141"><stop offset="0.0000" stop-color="#cc4300"/><stop offset="0.1064" stop-color="#cc4300"/><stop offset="0.1277" stop-color="#cc4400"/><stop offset="0.1702" stop-color="#cc4400"/><stop offset="0.1915" stop-color="#cd4400"/><stop offset="0.2766" stop-color="#cd4400"/><stop offset="0.2979" stop-color="#cd4500"/><stop offset="0.3191" stop-color="#ce4800"/><stop offset="0.3404" stop-color="#d14e00"/><stop offset="0.3617" stop-color="#d75c00"/><stop offset="0.3830" stop-color="#e07400"/><stop offset="0.4043" stop-color="#e99300"/><stop offset="0.4255" stop-color="#eea900"/><stop offset="0.4468" stop-color="#efae00"/><stop offset="0.4681" stop-color="#eda600"/><stop offset="0.4894" stop-color="#ea9700"/><stop offset="0.5106" stop-color="#e68900"/><stop offset="0.5319" stop-color="#e27c00"/><stop offset="0.5532" stop-color="#df7200"/><stop offset="0.5745" stop-color="#dc6800"/><stop offset="0.5957" stop-color="#d96000"/><stop offset="0.6170" stop-color="#d65800"/><stop offset="0.6383" stop-color="#d35200"/><stop offset="0.6596" stop-color="#d14c00"/><stop offset="0.6809" stop-color="#cd4500"/><stop offset="0.7021" stop-color="#c83c00"/><stop offset="0.7234" stop-color="#c13000"/><stop offset="0.7447" stop-color="#b92500"/><stop offset="0.7660" stop-color="#af1a31"/><stop offset="0.7872" stop-color="#a41286"/><stop offset="0.8085" stop-color="#980cc7"/><stop offset="0.8298" stop-color="#8e08ed"/><stop offset="0.8511" stop-color="#8505fc"/><stop offset="0.8723" stop-color="#7c03fe"/><stop offset="0.8936" stop-color="#7302f4"/><stop offset="0.9149" stop-color="#6801dc"/><stop offset="0.9362" stop-color="#5b01b6"/><stop offset="0.9574" stop-color="#4c0087"/><stop offset="0.9787" stop-color="#3d0059"/><stop offset="1.0000" stop-color="#340042"/></radialGradient>
<radialGradient id="g31b" gradientUnits="userSpaceOnUse" cx="371.0" cy="755.8" r="141"><stop offset="0.0000" stop-color="#e07700"/><stop offset="0.0213" stop-color="#e07700"/><stop offset="0.0426" stop-color="#e07600"/><stop offset="0.1915" stop-color="#e07600"/><stop offset="0.2128" stop-color="#e07500"/><stop offset="0.3404" stop-color="#e07500"/><stop offset="0.3617" stop-color="#e07400"/><stop offset="0.3830" stop-color="#df7200"/><stop offset="0.4043" stop-color="#de7000"/><stop offset="0.4255" stop-color="#dd6d00"/><stop offset="0.4468" stop-color="#dc6900"/><stop offset="0.4681" stop-color="#da6300"/><stop offset="0.4894" stop-color="#d85d00"/><stop offset="0.5106" stop-color="#d55600"/><stop offset="0.5319" stop-color="#d14d00"/><stop offset="0.5532" stop-color="#cc4300"/><stop offset="0.5745" stop-color="#c63800"/><stop offset="0.5957" stop-color="#be2c00"/><stop offset="0.6170" stop-color="#b52000"/><stop offset="0.6383" stop-color="#ab174e"/><stop offset="0.6596" stop-color="#a21192"/><stop offset="0.6809" stop-color="#9a0cc1"/><stop offset="0.7021" stop-color="#9309df"/><stop offset="0.7234" stop-color="#8c07f1"/><stop offset="0.7447" stop-color="#8706fa"/><stop offset="0.7660" stop-color="#8204ff"/><stop offset="0.7872" stop-color="#7d03fe"/><stop offset="0.8085" stop-color="#7703fa"/><stop offset="0.8298" stop-color="#7102f0"/><stop offset="0.8511" stop-color="#6a01e3"/><stop offset="0.8723" stop-color="#6301cf"/><stop offset="0.8936" stop-color="#5a01b5"/><stop offset="0.9149" stop-color="#510096"/><stop offset="0.9362" stop-color="#460074"/><stop offset="0.9574" stop-color="#390050"/><stop offset="0.9787" stop-color="#2d0031"/><stop offset="1.0000" stop-color="#250022"/></radialGradient>
<pattern id="d31" patternUnits="userSpaceOnUse" x="272.500" y="657.500" width="9.352" height="9.352"><rect x="0" y="0" width="1.3" height="1.3" fill="#ffff00" fill-opacity="0.28"/></pattern>
<radialGradient id="g32t" gradientUnits="userSpaceOnUse" cx="602.2" cy="755.8" r="141"><stop offset="0.0000" stop-color="#e07500"/><stop offset="0.1064" stop-color="#e07500"/><stop offset="0.1277" stop-color="#e07600"/><stop offset="0.2128" stop-color="#e07600"/><stop offset="0.2340" stop-color="#e07700"/><stop offset="0.2553" stop-color="#e17700"/><stop offset="0.2766" stop-color="#e17a00"/><stop offset="0.2979" stop-color="#e37d00"/><stop offset="0.3191" stop-color="#e48400"/><stop offset="0.3404" stop-color="#e88f00"/><stop offset="0.3617" stop-color="#eca000"/><stop offset="0.3830" stop-color="#f0b300"/><stop offset="0.4043" stop-color="#f4c200"/><stop offset="0.4255" stop-color="#f5c900"/><stop offset="0.4468" stop-color="#f5c700"/><stop offset="0.4681" stop-color="#f2bd00"/><stop offset="0.4894" stop-color="#f0b000"/><stop offset="0.5106" stop-color="#eda400"/><stop offset="0.5319" stop-color="#ea9900"/><stop offset="0.5532" stop-color="#e78e00"/><stop offset="0.5745" stop-color="#e48400"/><stop offset="0.5957" stop-color="#e17900"/><stop offset="0.6170" stop-color="#de7000"/><stop offset="0.6383" stop-color="#db6600"/><stop offset="0.6596" stop-color="#d85d00"/><stop offset="0.6809" stop-color="#d45500"/><stop offset="0.7021" stop-color="#d04b00"/><stop offset="0.7234" stop-color="#cb4000"/><stop offset="0.7447" stop-color="#c43400"/><stop offset="0.7660" stop-color="#bc2800"/><stop offset="0.7872" stop-color="#b21e13"/><stop offset="0.8085" stop-color="#a7146b"/><stop offset="0.8298" stop-color="#9c0eb3"/><stop offset="0.8511" stop-color="#9209e2"/><stop offset="0.8723" stop-color="#8806fa"/><stop offset="0.8936" stop-color="#7e04ff"/><stop offset="0.9149" stop-color="#7402f5"/><stop offset="0.9362" stop-color="#6701da"/><stop offset="0.9574" stop-color="#5800ae"/><stop offset="0.9787" stop-color="#49007c"/><stop offset="1.0000" stop-color="#400061"/></radialGradient>
<radialGradient id="g32b" gradientUnits="userSpaceOnUse" cx="602.2" cy="755.8" r="141"><stop offset="0.0000" stop-color="#eda500"/><stop offset="0.0426" stop-color="#eda500"/><stop offset="0.0638" stop-color="#eda400"/><stop offset="0.1489" stop-color="#eda400"/><stop offset="0.1702" stop-color="#eda300"/><stop offset="0.2340" stop-color="#eda300"/><stop offset="0.2553" stop-color="#eda200"/><stop offset="0.2766" stop-color="#eca200"/><stop offset="0.2979" stop-color="#eca000"/><stop offset="0.3191" stop-color="#eb9e00"/><stop offset="0.3404" stop-color="#eb9b00"/><stop offset="0.3617" stop-color="#ea9800"/><stop offset="0.3830" stop-color="#e99300"/><stop offset="0.4043" stop-color="#e78d00"/><stop offset="0.4255" stop-color="#e58600"/><stop offset="0.4468" stop-color="#e37e00"/><stop offset="0.4681" stop-color="#df7400"/><stop offset="0.4894" stop-color="#dc6900"/><stop offset="0.5106" stop-color="#d85f00"/><stop offset="0.5319" stop-color="#d45400"/><stop offset="0.5532" stop-color="#cf4900"/><stop offset="0.5745" stop-color="#ca4000"/><stop offset="0.5957" stop-color="#c53600"/><stop offset="0.6170" stop-color="#be2c00"/><stop offset="0.6383" stop-color="#b72300"/><stop offset="0.6596" stop-color="#b01c23"/><stop offset="0.6809" stop-color="#aa1658"/><stop offset="0.7021" stop-color="#a31287"/><stop offset="0.7234" stop-color="#9d0eae"/><stop offset="0.7447" stop-color="#970bcc"/><stop offset="0.7660" stop-color="#9209e2"/><stop offset="0.7872" stop-color="#8c07f2"/><stop offset="0.8085" stop-color="#8605fb"/><stop offset="0.8298" stop-color="#8004ff"/><stop offset="0.8511" stop-color="#7903fc"/><stop offset="0.8723" stop-color="#7202f2"/><stop offset="0.8936" stop-color="#6901df"/><stop offset="0.9149" stop-color="#5f01c4"/><stop offset="0.9362" stop-color="#53009d"/><stop offset="0.9574" stop-color="#44006f"/><stop offset="0.9787" stop-color="#360046"/><stop offset="1.0000" stop-color="#2d0032"/></radialGradient>
<pattern id="d32" patternUnits="userSpaceOnUse" x="503.700" y="657.500" width="9.352" height="9.352"><rect x="0" y="0" width="1.3" height="1.3" fill="#ffff00" fill-opacity="0.28"/></pattern>
<radialGradient id="g33t" gradientUnits="userSpaceOnUse" cx="834.2" cy="755.8" r="141"><stop offset="0.0000" stop-color="#efae00"/><stop offset="0.0213" stop-color="#efae00"/><stop offset="0.0426" stop-color="#efaf00"/><stop offset="0.0638" stop-color="#f0af00"/><stop offset="0.0851" stop-color="#f0b000"/><stop offset="0.1064" stop-color="#f0b000"/><stop offset="0.1277" stop-color="#f0b100"/><stop offset="0.1489" stop-color="#f0b100"/><stop offset="0.1702" stop-color="#f0b200"/><stop offset="0.1915" stop-color="#f0b200"/><stop offset="0.2128" stop-color="#f0b300"/><stop offset="0.2340" stop-color="#f1b400"/><stop offset="0.2553" stop-color="#f1b500"/><stop offset="0.2766" stop-color="#f2b800"/><stop offset="0.2979" stop-color="#f2bb00"/><stop offset="0.3191" stop-color="#f3bf00"/><stop offset="0.3404" stop-color="#f4c200"/><stop offset="0.3617" stop-color="#f4c500"/><stop offset="0.3830" stop-color="#f4c600"/><stop offset="0.4043" stop-color="#f4c500"/><stop offset="0.4255" stop-color="#f4c200"/><stop offset="0.4468" stop-color="#f3bf00"/><stop offset="0.4681" stop-color="#f2ba00"/><stop offset="0.4894" stop-color="#f1b500"/><stop offset="0.5106" stop-color="#efae00"/><stop offset="0.5319" stop-color="#eda600"/><stop offset="0.5532" stop-color="#eb9e00"/><stop offset="0.5745" stop-color="#e99600"/><stop offset="0.5957" stop-color="#e78e00"/><stop offset="0.6170" stop-color="#e58500"/><stop offset="0.6383" stop-color="#e27d00"/><stop offset="0.6596" stop-color="#e07500"/><stop offset="0.6809" stop-color="#dd6d00"/><stop offset="0.7021" stop-color="#d96200"/><stop offset="0.7234" stop-color="#d45400"/><stop offset="0.7447" stop-color="#ce4600"/><stop offset="0.7660" stop-color="#c63700"/><stop offset="0.7872" stop-color="#bd2a00"/><stop offset="0.8085" stop-color="#b41f06"/><stop offset="0.8298" stop-color="#aa165b"/><stop offset="0.8511" stop-color="#9f0fa4"/><stop offset="0.8723" stop-color="#940ad9"/><stop offset="0.8936" stop-color="#8a06f6"/><stop offset="0.9149" stop-color="#7f04ff"/><stop offset="0.9362" stop-color="#7502f7"/><stop offset="0.9574" stop-color="#6a01e1"/><stop offset="0.9787" stop-color="#5f01c3"/><stop offset="1.0000" stop-color="#5900b1"/></radialGradient>
<radialGradient id="g33b" gradientUnits="userSpaceOnUse" cx="834.2" cy="755.8" r="141"><stop offset="0.0000" stop-color="#f8da00"/><stop offset="0.0213" stop-color="#f8da00"/><stop offset="0.0426" stop-color="#f8d900"/><stop offset="0.0638" stop-color="#f8d800"/><stop offset="0.0851" stop-color="#f8d700"/><stop offset="0.1064" stop-color="#f8d700"/><stop offset="0.1277" stop-color="#f8d600"/><stop offset="0.1489" stop-color="#f7d500"/><stop offset="0.1702" stop-color="#f7d400"/><stop offset="0.1915" stop-color="#f7d200"/><stop offset="0.2128" stop-color="#f6cf00"/><stop offset="0.2340" stop-color="#f6cb00"/><stop offset="0.2553" stop-color="#f5c800"/><stop offset="0.2766" stop-color="#f4c500"/><stop offset="0.2979" stop-color="#f4c200"/><stop offset="0.3191" stop-color="#f3bf00"/><stop offset="0.3404" stop-color="#f2bc00"/><stop offset="0.3617" stop-color="#f1b800"/><stop offset="0.3830" stop-color="#f0b300"/><stop offset="0.4043" stop-color="#efaf00"/><stop offset="0.4255" stop-color="#eeaa00"/><stop offset="0.4468" stop-color="#eda300"/><stop offset="0.4681" stop-color="#eb9b00"/><stop offset="0.4894" stop-color="#e99400"/><stop offset="0.5106" stop-color="#e68b00"/><stop offset="0.5319" stop-color="#e37f00"/><stop offset="0.5532" stop-color="#df7300"/><stop offset="0.5745" stop-color="#dc6800"/><stop offset="0.5957" stop-color="#d75c00"/><stop offset="0.6170" stop-color="#d25000"/><stop offset="0.6383" stop-color="#cc4300"/><stop offset="0.6596" stop-color="#c63700"/><stop offset="0.6809" stop-color="#c02e00"/><stop offset="0.7021" stop-color="#ba2600"/><stop offset="0.7234" stop-color="#b42000"/><stop offset="0.7447" stop-color="#af1a30"/><stop offset="0.7660" stop-color="#a9165e"/><stop offset="0.7872" stop-color="#a3118a"/><stop offset="0.8085" stop-color="#9c0eb3"/><stop offset="0.8298" stop-color="#950ad5"/><stop offset="0.8511" stop-color="#8e08ed"/><stop offset="0.8723" stop-color="#8706fa"/><stop offset="0.8936" stop-color="#8004ff"/><stop offset="0.9149" stop-color="#7703fa"/><stop offset="0.9362" stop-color="#6e02eb"/><stop offset="0.9574" stop-color="#6301cf"/><stop offset="0.9787" stop-color="#5800ad"/><stop offset="1.0000" stop-color="#510099"/></radialGradient>
<pattern id="d33" patternUnits="userSpaceOnUse" x="735.700" y="657.500" width="9.352" height="9.352"><rect x="0" y="0" width="1.3" height="1.3" fill="#ffff00" fill-opacity="0.28"/></pattern>
<linearGradient id="cb0" x1="0" y1="0" x2="0" y2="1"><stop offset="0" stop-color="#00ff00"/><stop offset="0.5" stop-color="#000"/><stop offset="1" stop-color="#ff0000"/></linearGradient>
<linearGradient id="cbp" x1="0" y1="0" x2="0" y2="1"><stop offset="0.0000" stop-color="#ffff00"/><stop offset="0.0250" stop-color="#fcec00"/><stop offset="0.0500" stop-color="#f9db00"/><stop offset="0.0750" stop-color="#f5ca00"/><stop offset="0.1000" stop-color="#f2ba00"/><stop offset="0.1250" stop-color="#efab00"/><stop offset="0.1500" stop-color="#eb9d00"/><stop offset="0.1750" stop-color="#e88f00"/><stop offset="0.2000" stop-color="#e48300"/><stop offset="0.2250" stop-color="#e07700"/><stop offset="0.2500" stop-color="#dd6c00"/><stop offset="0.2750" stop-color="#d96100"/><stop offset="0.3000" stop-color="#d55700"/><stop offset="0.3250" stop-color="#d24e00"/><stop offset="0.3500" stop-color="#ce4600"/><stop offset="0.3750" stop-color="#ca3e00"/><stop offset="0.4000" stop-color="#c63700"/><stop offset="0.4250" stop-color="#c13000"/><stop offset="0.4500" stop-color="#bd2a00"/><stop offset="0.4750" stop-color="#b92500"/><stop offset="0.5000" stop-color="#b42000"/><stop offset="0.5250" stop-color="#b01b28"/><stop offset="0.5500" stop-color="#ab174f"/><stop offset="0.5750" stop-color="#a61474"/><stop offset="0.6000" stop-color="#a11096"/><stop offset="0.6250" stop-color="#9c0db4"/><stop offset="0.6500" stop-color="#970bce"/><stop offset="0.6750" stop-color="#9109e3"/><stop offset="0.7000" stop-color="#8c07f3"/><stop offset="0.7250" stop-color="#8605fc"/><stop offset="0.7500" stop-color="#8004ff"/><stop offset="0.7750" stop-color="#7903fc"/><stop offset="0.8000" stop-color="#7202f3"/><stop offset="0.8250" stop-color="#6b01e3"/><stop offset="0.8500" stop-color="#6301ce"/><stop offset="0.8750" stop-color="#5a00b4"/><stop offset="0.9000" stop-color="#510096"/><stop offset="0.9250" stop-color="#460074"/><stop offset="0.9500" stop-color="#39004f"/><stop offset="0.9750" stop-color="#280028"/><stop offset="1.0000" stop-color="#000000"/></linearGradient>
</defs>
<rect x="0" y="0" width="1000" height="893" fill="#fff"/>
<rect x="41.2" y="8.6" width="196.4" height="196.4" fill="#000"/>
<clipPath id="cp00"><rect x="41.2" y="8.6" width="196.4" height="196.4"/></clipPath>
<g clip-path="url(#cp00)"><g mask="url(#mk0)"><rect x="31.2" y="-1.4" width="216.4" height="216.4" fill="url(#chk0)" filter="url(#bl)"/></g></g>
<rect x="272.8" y="8.6" width="196.4" height="196.4" fill="#000"/>
<clipPath id="cp01"><rect x="272.8" y="8.6" width="196.4" height="196.4"/></clipPath>
<g clip-path="url(#cp01)"><g mask="url(#mk1)"><rect x="262.8" y="-1.4" width="216.4" height="216.4" fill="url(#chk1)" filter="url(#bl)"/></g></g>
<rect x="504.0" y="8.6" width="196.4" height="196.4" fill="#000"/>
<clipPath id="cp02"><rect x="504.0" y="8.6" width="196.4" height="196.4"/></clipPath>
<g clip-path="url(#cp02)"><g mask="url(#mk2)"><rect x="494.0" y="-1.4" width="216.4" height="216.4" fill="url(#chk2)" filter="url(#bl)"/></g></g>
<rect x="736.0" y="8.6" width="196.4" height="196.4" fill="#000"/>
<rect x="42.00" y="9.40" width="194.80" height="194.80" fill="none" stroke="#0a0008" stroke-width="1.6"/>
<rect x="273.60" y="9.40" width="194.80" height="194.80" fill="none" stroke="#0a0008" stroke-width="1.6"/>
<rect x="504.80" y="9.40" width="194.80" height="194.80" fill="none" stroke="#0a0008" stroke-width="1.6"/>
<rect x="736.80" y="9.40" width="194.80" height="194.80" fill="none" stroke="#0a0008" stroke-width="1.6"/>
<rect x="41.2" y="225.0" width="196.4" height="98.2" fill="url(#g10t)"/>
<rect x="41.2" y="323.2" width="196.4" height="98.2" fill="url(#g10b)"/>
<rect x="45.2" y="229.0" width="188.4" height="188.4" fill="url(#d10)"/>
<rect x="42.8" y="319.0" width="193.2" height="8.4" fill="#fff"/>
<text x="43.8" y="415.1" textLength="191" lengthAdjust="spacingAndGlyphs" fill="#fff" fill-opacity="0.9" font-size="18.3">z-integrated (scale x17)</text>
<rect x="272.8" y="225.0" width="196.4" height="98.2" fill="url(#g11t)"/>
<rect x="272.8" y="323.2" width="196.4" height="98.2" fill="url(#g11b)"/>
<rect x="276.8" y="229.0" width="188.4" height="188.4" fill="url(#d11)"/>
<rect x="274.4" y="319.0" width="193.2" height="8.4" fill="#fff"/>
<text x="275.4" y="415.1" textLength="191" lengthAdjust="spacingAndGlyphs" fill="#fff" fill-opacity="0.9" font-size="18.3">z-integrated (scale x17)</text>
<rect x="504.0" y="225.0" width="196.4" height="98.2" fill="url(#g12t)"/>
<rect x="504.0" y="323.2" width="196.4" height="98.2" fill="url(#g12b)"/>
<rect x="508.0" y="229.0" width="188.4" height="188.4" fill="url(#d12)"/>
<rect x="505.6" y="319.0" width="193.2" height="8.4" fill="#fff"/>
<text x="506.6" y="415.1" textLength="191" lengthAdjust="spacingAndGlyphs" fill="#fff" fill-opacity="0.9" font-size="18.3">z-integrated (scale x17)</text>
<rect x="736.0" y="225.0" width="196.4" height="98.2" fill="url(#g13t)"/>
<rect x="736.0" y="323.2" width="196.4" height="98.2" fill="url(#g13b)"/>
<rect x="740.0" y="229.0" width="188.4" height="188.4" fill="url(#d13)"/>
<rect x="737.6" y="319.0" width="193.2" height="8.4" fill="#fff"/>
<text x="738.6" y="415.1" textLength="191" lengthAdjust="spacingAndGlyphs" fill="#fff" fill-opacity="0.9" font-size="18.3">z-integrated (scale x17)</text>
<rect x="42.00" y="225.80" width="194.80" height="194.80" fill="none" stroke="#0a0008" stroke-width="1.6"/>
<rect x="273.60" y="225.80" width="194.80" height="194.80" fill="none" stroke="#0a0008" stroke-width="1.6"/>
<rect x="504.80" y="225.80" width="194.80" height="194.80" fill="none" stroke="#0a0008" stroke-width="1.6"/>
<rect x="736.80" y="225.80" width="194.80" height="194.80" fill="none" stroke="#0a0008" stroke-width="1.6"/>
<rect x="41.2" y="441.3" width="196.4" height="98.2" fill="url(#g20t)"/>
<rect x="41.2" y="539.5" width="196.4" height="98.2" fill="url(#g20b)"/>
<rect x="45.2" y="445.3" width="188.4" height="188.4" fill="url(#d20)"/>
<rect x="42.8" y="535.3" width="193.2" height="8.4" fill="#fff"/>
<text x="43.8" y="631.4" textLength="191" lengthAdjust="spacingAndGlyphs" fill="#fff" fill-opacity="0.9" font-size="18.3">z-integrated (scale x20)</text>
<rect x="272.8" y="441.3" width="196.4" height="98.2" fill="url(#g21t)"/>
<rect x="272.8" y="539.5" width="196.4" height="98.2" fill="url(#g21b)"/>
<rect x="276.8" y="445.3" width="188.4" height="188.4" fill="url(#d21)"/>
<rect x="274.4" y="535.3" width="193.2" height="8.4" fill="#fff"/>
<text x="275.4" y="631.4" textLength="191" lengthAdjust="spacingAndGlyphs" fill="#fff" fill-opacity="0.9" font-size="18.3">z-integrated (scale x20)</text>
<rect x="504.0" y="441.3" width="196.4" height="98.2" fill="url(#g22t)"/>
<rect x="504.0" y="539.5" width="196.4" height="98.2" fill="url(#g22b)"/>
<rect x="508.0" y="445.3" width="188.4" height="188.4" fill="url(#d22)"/>
<rect x="505.6" y="535.3" width="193.2" height="8.4" fill="#fff"/>
<text x="506.6" y="631.4" textLength="191" lengthAdjust="spacingAndGlyphs" fill="#fff" fill-opacity="0.9" font-size="18.3">z-integrated (scale x20)</text>
<rect x="736.0" y="441.3" width="196.4" height="98.2" fill="url(#g23t)"/>
<rect x="736.0" y="539.5" width="196.4" height="98.2" fill="url(#g23b)"/>
<rect x="740.0" y="445.3" width="188.4" height="188.4" fill="url(#d23)"/>
<rect x="737.6" y="535.3" width="193.2" height="8.4" fill="#fff"/>
<text x="738.6" y="631.4" textLength="191" lengthAdjust="spacingAndGlyphs" fill="#fff" fill-opacity="0.9" font-size="18.3">z-integrated (scale x20)</text>
<rect x="42.00" y="442.10" width="194.80" height="194.80" fill="none" stroke="#0a0008" stroke-width="1.6"/>
<rect x="273.60" y="442.10" width="194.80" height="194.80" fill="none" stroke="#0a0008" stroke-width="1.6"/>
<rect x="504.80" y="442.10" width="194.80" height="194.80" fill="none" stroke="#0a0008" stroke-width="1.6"/>
<rect x="736.80" y="442.10" width="194.80" height="194.80" fill="none" stroke="#0a0008" stroke-width="1.6"/>
<rect x="41.2" y="657.6" width="196.4" height="98.2" fill="url(#g30t)"/>
<rect x="41.2" y="755.8" width="196.4" height="98.2" fill="url(#g30b)"/>
<rect x="45.2" y="661.6" width="188.4" height="188.4" fill="url(#d30)"/>
<rect x="42.8" y="751.6" width="193.2" height="8.4" fill="#fff"/>
<text x="43.8" y="847.7" textLength="191" lengthAdjust="spacingAndGlyphs" fill="#fff" fill-opacity="0.9" font-size="18.3">z-integrated (scale x20)</text>
<rect x="272.8" y="657.6" width="196.4" height="98.2" fill="url(#g31t)"/>
<rect x="272.8" y="755.8" width="196.4" height="98.2" fill="url(#g31b)"/>
<rect x="276.8" y="661.6" width="188.4" height="188.4" fill="url(#d31)"/>
<rect x="274.4" y="751.6" width="193.2" height="8.4" fill="#fff"/>
<text x="275.4" y="847.7" textLength="191" lengthAdjust="spacingAndGlyphs" fill="#fff" fill-opacity="0.9" font-size="18.3">z-integrated (scale x20)</text>
<rect x="504.0" y="657.6" width="196.4" height="98.2" fill="url(#g32t)"/>
<rect x="504.0" y="755.8" width="196.4" height="98.2" fill="url(#g32b)"/>
<rect x="508.0" y="661.6" width="188.4" height="188.4" fill="url(#d32)"/>
<rect x="505.6" y="751.6" width="193.2" height="8.4" fill="#fff"/>
<text x="506.6" y="847.7" textLength="191" lengthAdjust="spacingAndGlyphs" fill="#fff" fill-opacity="0.9" font-size="18.3">z-integrated (scale x20)</text>
<rect x="736.0" y="657.6" width="196.4" height="98.2" fill="url(#g33t)"/>
<rect x="736.0" y="755.8" width="196.4" height="98.2" fill="url(#g33b)"/>
<rect x="740.0" y="661.6" width="188.4" height="188.4" fill="url(#d33)"/>
<rect x="737.6" y="751.6" width="193.2" height="8.4" fill="#fff"/>
<text x="738.6" y="847.7" textLength="191" lengthAdjust="spacingAndGlyphs" fill="#fff" fill-opacity="0.9" font-size="18.3">z-integrated (scale x20)</text>
<rect x="42.00" y="658.40" width="194.80" height="194.80" fill="none" stroke="#0a0008" stroke-width="1.6"/>
<rect x="273.60" y="658.40" width="194.80" height="194.80" fill="none" stroke="#0a0008" stroke-width="1.6"/>
<rect x="504.80" y="658.40" width="194.80" height="194.80" fill="none" stroke="#0a0008" stroke-width="1.6"/>
<rect x="736.80" y="658.40" width="194.80" height="194.80" fill="none" stroke="#0a0008" stroke-width="1.6"/>
<rect x="936.9" y="9.4" width="9.8" height="195.2" fill="url(#cb0)" stroke="#111" stroke-width="1.4"/>
<rect x="936.9" y="171.42" width="9.8" height="1.3" fill="#111"/>
<rect x="936.9" y="138.88" width="9.8" height="1.3" fill="#111"/>
<rect x="936.9" y="106.35" width="9.8" height="1.3" fill="#111"/>
<rect x="936.9" y="73.82" width="9.8" height="1.3" fill="#111"/>
<rect x="936.9" y="41.28" width="9.8" height="1.3" fill="#111"/>
<text x="956.5" y="211.6" font-size="17.8" fill="#000" stroke="#000" stroke-width="0.65">-0.6</text>
<text x="956.5" y="179.1" font-size="17.8" fill="#000" stroke="#000" stroke-width="0.65">-0.4</text>
<text x="956.5" y="146.5" font-size="17.8" fill="#000" stroke="#000" stroke-width="0.65">-0.2</text>
<text x="962.4" y="114.0" font-size="17.8" fill="#000" stroke="#000" stroke-width="0.65">0</text>
<text x="962.4" y="81.5" font-size="17.8" fill="#000" stroke="#000" stroke-width="0.65">0.2</text>
<text x="962.4" y="48.9" font-size="17.8" fill="#000" stroke="#000" stroke-width="0.65">0.4</text>
<text x="962.4" y="16.4" font-size="17.8" fill="#000" stroke="#000" stroke-width="0.65">0.6</text>
<rect x="936.9" y="225.8" width="9.8" height="195.2" fill="url(#cbp)" stroke="#111" stroke-width="1.4"/>
<rect x="936.9" y="392.46" width="9.8" height="1.3" fill="#111"/>
<rect x="936.9" y="364.58" width="9.8" height="1.3" fill="#111"/>
<rect x="936.9" y="336.69" width="9.8" height="1.3" fill="#111"/>
<rect x="936.9" y="308.81" width="9.8" height="1.3" fill="#111"/>
<rect x="936.9" y="280.92" width="9.8" height="1.3" fill="#111"/>
<rect x="936.9" y="253.04" width="9.8" height="1.3" fill="#111"/>
<text x="962.4" y="428.0" font-size="17.8" fill="#000" stroke="#000" stroke-width="0.65">0</text>
<text x="962.4" y="372.2" font-size="17.8" fill="#000" stroke="#000" stroke-width="0.65">0.01</text>
<text x="962.4" y="316.5" font-size="17.8" fill="#000" stroke="#000" stroke-width="0.65">0.02</text>
<text x="962.4" y="260.7" font-size="17.8" fill="#000" stroke="#000" stroke-width="0.65">0.03</text>
<rect x="936.9" y="442.1" width="9.8" height="195.2" fill="url(#cbp)" stroke="#111" stroke-width="1.4"/>
<rect x="936.9" y="597.61" width="9.8" height="1.3" fill="#111"/>
<rect x="936.9" y="558.57" width="9.8" height="1.3" fill="#111"/>
<rect x="936.9" y="519.53" width="9.8" height="1.3" fill="#111"/>
<rect x="936.9" y="480.49" width="9.8" height="1.3" fill="#111"/>
<text x="962.4" y="644.3" font-size="17.8" fill="#000" stroke="#000" stroke-width="0.65">0</text>
<text x="962.4" y="605.3" font-size="17.8" fill="#000" stroke="#000" stroke-width="0.65">0.2</text>
<text x="962.4" y="566.2" font-size="17.8" fill="#000" stroke="#000" stroke-width="0.65">0.4</text>
<text x="962.4" y="527.2" font-size="17.8" fill="#000" stroke="#000" stroke-width="0.65">0.6</text>
<text x="962.4" y="488.1" font-size="17.8" fill="#000" stroke="#000" stroke-width="0.65">0.8</text>
<text x="962.4" y="449.1" font-size="17.8" fill="#000" stroke="#000" stroke-width="0.65">1</text>
<rect x="936.9" y="658.4" width="9.8" height="195.2" fill="url(#cbp)" stroke="#111" stroke-width="1.4"/>
<rect x="936.9" y="804.15" width="9.8" height="1.3" fill="#111"/>
<rect x="936.9" y="755.35" width="9.8" height="1.3" fill="#111"/>
<rect x="936.9" y="706.55" width="9.8" height="1.3" fill="#111"/>
<text x="962.4" y="860.6" font-size="17.8" fill="#000" stroke="#000" stroke-width="0.65">0</text>
<text x="962.4" y="811.8" font-size="17.8" fill="#000" stroke="#000" stroke-width="0.65">0.2</text>
<text x="962.4" y="763.0" font-size="17.8" fill="#000" stroke="#000" stroke-width="0.65">0.4</text>
<text x="962.4" y="714.2" font-size="17.8" fill="#000" stroke="#000" stroke-width="0.65">0.6</text>
<text x="962.4" y="665.4" font-size="17.8" fill="#000" stroke="#000" stroke-width="0.65">0.8</text>
<text transform="translate(19.8 106.8) rotate(-90)" text-anchor="middle" font-size="21.3" fill="#000" stroke="#000" stroke-width="0.7">magnetization</text>
<text transform="translate(19.8 323.2) rotate(-90)" text-anchor="middle" font-size="21.3" fill="#000" stroke="#000" stroke-width="0.7">double occupancy</text>
<text transform="translate(19.8 539.5) rotate(-90)" text-anchor="middle" font-size="21.3" fill="#000" stroke="#000" stroke-width="0.7">particle density</text>
<text transform="translate(19.8 755.8) rotate(-90)" text-anchor="middle" font-size="21.3" fill="#000" stroke="#000" stroke-width="0.7">entropy density</text>
<text x="140.9" y="889.2" text-anchor="middle" font-size="21.3" fill="#000" stroke="#000" stroke-width="0.7">T/t = 0.20</text>
<text x="372.5" y="889.2" text-anchor="middle" font-size="21.3" fill="#000" stroke="#000" stroke-width="0.7">T/t = 0.36</text>
<text x="603.7" y="889.2" text-anchor="middle" font-size="21.3" fill="#000" stroke="#000" stroke-width="0.7">T/t = 0.42</text>
<text x="835.7" y="889.2" text-anchor="middle" font-size="21.3" fill="#000" stroke="#000" stroke-width="0.7">T/t = 0.50</text>
</svg>
</body>
</html>
